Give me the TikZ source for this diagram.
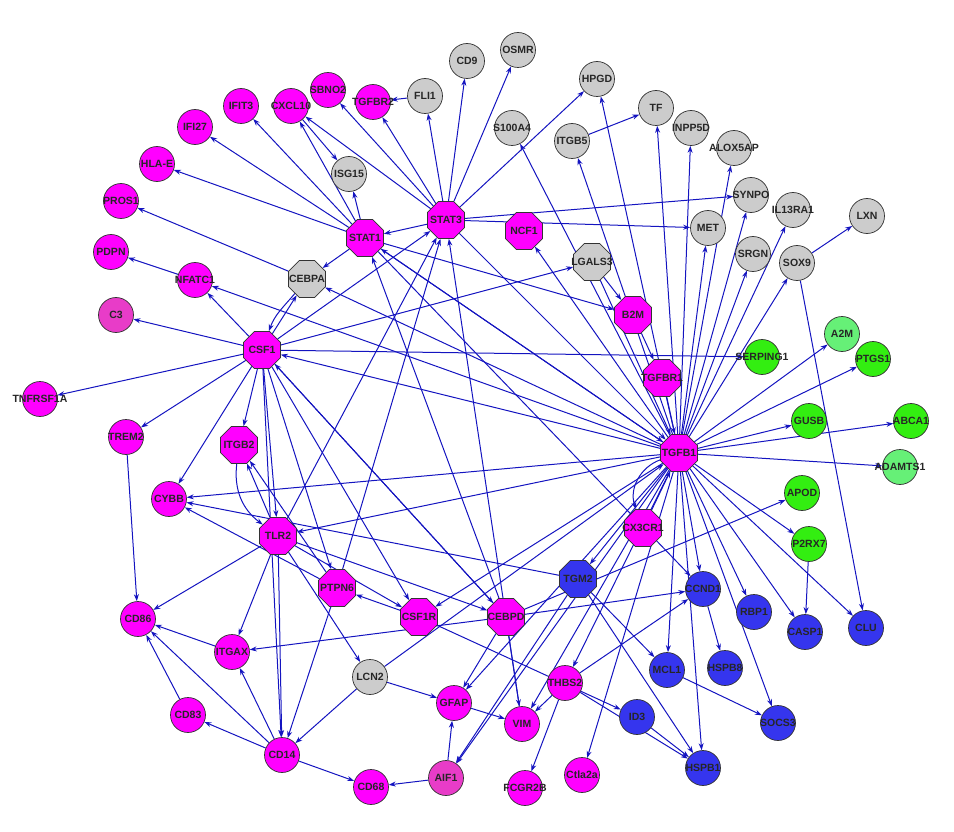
\documentclass[tikz,border=0pt]{standalone}
\usepackage{fontspec}
\setmainfont{Liberation Sans}
\usetikzlibrary{shapes.geometric,arrows.meta,backgrounds}
\definecolor{mag}{HTML}{FF00FF}
\definecolor{mag2}{HTML}{E83CC8}
\definecolor{gry}{HTML}{CCCCCC}
\definecolor{grn}{HTML}{33EE11}
\definecolor{lgrn}{HTML}{66F077}
\definecolor{blu}{HTML}{3535EE}
\definecolor{edg}{HTML}{1414C0}
\tikzset{
 base/.style={draw=black!80,line width=0.7pt,inner sep=0pt,font=\bfseries\fontsize{10.5}{11}\selectfont,text=black!85,
   execute at begin node={\hbox to 0pt\bgroup\hss},execute at end node={\hss\egroup}},
 circ/.style={base,circle,minimum size=35pt},
 oct/.style={base,regular polygon,regular polygon sides=8,minimum size=40pt},
 M/.style={circ,fill=mag},
 MO/.style={oct,fill=mag},
 G/.style={circ,fill=gry},
 GO/.style={oct,fill=gry},
 Gr/.style={circ,fill=grn},
 LG/.style={circ,fill=lgrn},
 B/.style={circ,fill=blu},
 BO/.style={oct,fill=blu},
 edge/.style={draw=edg,line width=1pt,-{Stealth[length=7pt,width=5pt]}}
}
\begin{document}
\begin{tikzpicture}[x=1pt,y=-1pt]
\useasboundingbox (0,0) rectangle (954,832);
% magenta circles
\node[M] (SBNO2) at (328,90) {SBNO2};
\node[M] (CXCL10) at (291,106) {CXCL10};
\node[M] (IFIT3) at (241,106) {IFIT3};
\node[M] (IFI27) at (195,127) {IFI27};
\node[M] (HLAE) at (157,164) {HLA-E};
\node[M] (PROS1) at (121,201) {PROS1};
\node[M] (PDPN) at (111,252) {PDPN};
\node[M] (NFATC1) at (195,280) {NFATC1};
\node[circ,fill=mag2] (C3) at (116,315) {C3};
\node[M] (TNFRSF1A) at (40,399) {TNFRSF1A};
\node[M] (TGFBR2) at (373,102) {TGFBR2};
\node[M] (TREM2) at (126,437) {TREM2};
\node[M] (CYBB) at (169,499) {CYBB};
\node[M] (CD86) at (138,619) {CD86};
\node[M] (ITGAX) at (232,652) {ITGAX};
\node[M] (CD83) at (188,715) {CD83};
\node[M] (CD14) at (282,755) {CD14};
\node[M] (CD68) at (371,787) {CD68};
\node[circ,fill=mag2] (AIF1) at (446,778) {AIF1};
\node[M] (GFAP) at (454,703) {GFAP};
\node[M] (VIM) at (522,724) {VIM};
\node[M] (THBS2) at (565,683) {THBS2};
\node[M] (FCGR2B) at (525,788) {FCGR2B};
\node[M] (Ctla2a) at (582,775) {Ctla2a};
% magenta octagons
\node[MO] (STAT1) at (365,238) {STAT1};
\node[MO] (STAT3) at (446,220) {STAT3};
\node[MO] (NCF1) at (524,231) {NCF1};
\node[MO] (CSF1) at (262,350) {CSF1};
\node[MO] (B2M) at (633,315) {B2M};
\node[MO] (TGFBR1) at (662,378) {TGFBR1};
\node[MO] (TGFB1) at (679,453) {TGFB1};
\node[MO] (ITGB2) at (239,445) {ITGB2};
\node[MO] (TLR2) at (278,536) {TLR2};
\node[MO] (PTPN6) at (337,588) {PTPN6};
\node[MO] (CSF1R) at (419,617) {CSF1R};
\node[MO] (CEBPD) at (506,617) {CEBPD};
\node[MO] (CX3CR1) at (643,528) {CX3CR1};
% gray
\node[G] (FLI1) at (425,96) {FLI1};
\node[G] (CD9) at (467,61) {CD9};
\node[G] (OSMR) at (518,50) {OSMR};
\node[G] (HPGD) at (597,79) {HPGD};
\node[G] (TF) at (656,108) {TF};
\node[G] (S100A4) at (512,128) {S100A4};
\node[G] (ITGB5) at (572,141) {ITGB5};
\node[G] (INPP5D) at (691,128) {INPP5D};
\node[G] (ALOX5AP) at (734,148) {ALOX5AP};
\node[G] (ISG15) at (349,174) {ISG15};
\node[G] (SYNPO) at (751,195) {SYNPO};
\node[G] (IL13RA1) at (793,210) {IL13RA1};
\node[G] (LXN) at (867,216) {LXN};
\node[G] (MET) at (708,228) {MET};
\node[G] (SRGN) at (753,254) {SRGN};
\node[G] (SOX9) at (797,263) {SOX9};
\node[G] (LCN2) at (370,677) {LCN2};
\node[GO] (CEBPA) at (307,279) {CEBPA};
\node[GO] (LGALS3) at (592,262) {LGALS3};
% green
\node[Gr] (SERPING1) at (762,357) {SERPING1};
\node[LG] (A2M) at (842,334) {A2M};
\node[Gr] (PTGS1) at (873,359) {PTGS1};
\node[Gr] (GUSB) at (809,421) {GUSB};
\node[Gr] (ABCA1) at (911,421) {ABCA1};
\node[LG] (ADAMTS1) at (900,467) {ADAMTS1};
\node[Gr] (APOD) at (802,493) {APOD};
\node[Gr] (P2RX7) at (809,544) {P2RX7};
% blue
\node[BO] (TGM2) at (578,579) {TGM2};
\node[B] (CCND1) at (703,589) {CCND1};
\node[B] (RBP1) at (754,612) {RBP1};
\node[B] (CASP1) at (805,632) {CASP1};
\node[B] (CLU) at (866,628) {CLU};
\node[B] (HSPB8) at (725,668) {HSPB8};
\node[B] (MCL1) at (667,670) {MCL1};
\node[B] (ID3) at (637,717) {ID3};
\node[B] (SOCS3) at (778,723) {SOCS3};
\node[B] (HSPB1) at (703,768) {HSPB1};
% edges
\begin{pgfonlayer}{background}
\foreach \a/\b in {
STAT1/ISG15,STAT1/CXCL10,STAT1/IFIT3,STAT1/IFI27,STAT1/HLAE,STAT1/CEBPA,STAT1/B2M,
STAT3/SBNO2,STAT3/CXCL10,STAT3/TGFBR2,STAT3/FLI1,STAT3/CD9,STAT3/OSMR,STAT3/HPGD,STAT3/SYNPO,STAT3/MET,STAT3/STAT1,
ITGB5/TF,FLI1/TGFBR2,CXCL10/ISG15,CEBPA/PROS1,NFATC1/PDPN,
CSF1/C3,CSF1/TNFRSF1A,CSF1/NFATC1,CSF1/CEBPA,CSF1/LGALS3,CSF1/SERPING1,CSF1/TREM2,CSF1/ITGB2,CSF1/CYBB,CSF1/TLR2,CSF1/PTPN6,CSF1/CSF1R,CSF1/CEBPD,CSF1/STAT3,CSF1/CD14,
TGFB1/MET,TGFB1/SRGN,TGFB1/IL13RA1,TGFB1/SOX9,TGFB1/SYNPO,TGFB1/ALOX5AP,TGFB1/INPP5D,TGFB1/TF,TGFB1/HPGD,TGFB1/NCF1,TGFB1/S100A4,TGFB1/ITGB5,TGFB1/STAT1,
TGFB1/A2M,TGFB1/PTGS1,TGFB1/GUSB,TGFB1/ABCA1,TGFB1/ADAMTS1,TGFB1/P2RX7,TGFB1/CCND1,TGFB1/RBP1,TGFB1/CASP1,TGFB1/CLU,TGFB1/SOCS3,TGFB1/HSPB1,TGFB1/MCL1,
TGFB1/TGM2,TGFB1/Ctla2a,TGFB1/CYBB,TGFB1/CSF1,TGFB1/NFATC1,TGFB1/CSF1R,TGFB1/CEBPA,TGFB1/GFAP,TGFB1/AIF1,TGFB1/THBS2,TGFB1/VIM,TGFB1/TLR2,
B2M/TGFBR1,TGFBR1/TGFB1,CX3CR1/TGFB1,SOX9/LXN,SOX9/CLU,P2RX7/CASP1,CCND1/HSPB8,MCL1/SOCS3,ID3/HSPB1,THBS2/HSPB1,TGM2/HSPB1,TGM2/MCL1,TGM2/CYBB,TGM2/AIF1,
CSF1R/ID3,CEBPD/CCND1,CEBPD/APOD,CEBPD/GFAP,CEBPD/VIM,CEBPD/CSF1,CEBPD/STAT1,
TLR2/CD86,TLR2/ITGAX,TLR2/CD14,TLR2/ITGB2,TLR2/CSF1R,TLR2/CEBPD,TLR2/LCN2,TLR2/STAT3,
PTPN6/CYBB,PTPN6/CD14,PTPN6/ITGB2,PTPN6/STAT3,CSF1R/PTPN6,TREM2/CD86,ITGAX/CD86,
CD14/CD86,CD14/CD83,CD14/ITGAX,CD14/CD68,CD83/CD86,LCN2/CD14,LCN2/GFAP,LCN2/TGFB1,
AIF1/CD68,AIF1/GFAP,GFAP/VIM,THBS2/VIM,THBS2/FCGR2B,THBS2/CCND1,VIM/STAT3,CEBPD/ITGAX,LGALS3/TGFB1,LGALS3/B2M,STAT1/TGFB1,STAT1/CCND1,STAT3/TGFB1}
 \draw[edge] (\a) -- (\b);
\draw[edge] (ITGB2) to[bend right=30] (TLR2);
\draw[edge] (CEBPA) to[out=230,in=70] (CSF1);
\draw[edge] (TGFB1) to[out=200,in=110] (CX3CR1);
\end{pgfonlayer}
\end{tikzpicture}
\end{document}
